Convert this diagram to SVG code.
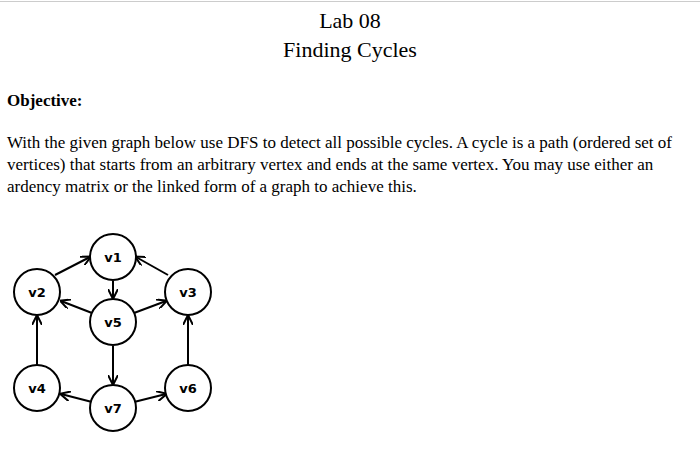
<svg xmlns="http://www.w3.org/2000/svg" width="700" height="453" viewBox="0 0 700 453">
<style>
.t{font-family:"Liberation Serif",serif;fill:#000}
.n circle{fill:#fff;stroke:#000;stroke-width:2}
.n text{font-family:"DejaVu Sans",sans-serif;font-weight:bold;font-size:13px;text-anchor:middle}
.e line{stroke:#000;stroke-width:2;marker-end:url(#a)}
</style>
<defs><marker id="a" viewBox="0 0 10 10" refX="9" refY="5" markerWidth="5" markerHeight="5" orient="auto"><path d="M0,0L10,5L0,10" fill="none" stroke="#000" stroke-width="2"/></marker></defs>
<rect width="700" height="453" fill="#fff"/>
<line x1="0" y1="1.5" x2="700" y2="1.5" stroke="#ccc"/>
<text class="t" x="350" y="28" font-size="22" text-anchor="middle">Lab 08</text>
<text class="t" x="350" y="57" font-size="22" text-anchor="middle">Finding Cycles</text>
<text class="t" x="7" y="106" font-size="17" font-weight="bold">Objective:</text>
<text class="t" x="7" y="148" font-size="17">With the given graph below use DFS to detect all possible cycles.  A cycle is a path (ordered set of</text>
<text class="t" x="7" y="170" font-size="17">vertices) that starts from an arbitrary vertex and ends at the same vertex.  You may use either an</text>
<text class="t" x="7" y="192" font-size="17">ardency matrix or the linked form of a graph to achieve this.</text>
<g class="e">
<line x1="55" y1="275" x2="90" y2="257"/>
<line x1="168" y1="275" x2="136" y2="257"/>
<line x1="113" y1="281" x2="113" y2="298"/>
<line x1="92" y1="313" x2="61" y2="301"/>
<line x1="134" y1="313" x2="166" y2="301"/>
<line x1="37" y1="366" x2="37" y2="316"/>
<line x1="188" y1="366" x2="188" y2="316"/>
<line x1="113" y1="346" x2="113" y2="384"/>
<line x1="92" y1="402" x2="61" y2="394"/>
<line x1="134" y1="402" x2="166" y2="394"/>
</g>
<g id="v1" class="n"><circle cx="113" cy="257" r="23"/><text x="113" y="262">v1</text></g>
<g id="v2" class="n"><circle cx="37" cy="292" r="23"/><text x="37" y="297">v2</text></g>
<g id="v3" class="n"><circle cx="188" cy="292" r="23"/><text x="188" y="297">v3</text></g>
<g id="v5" class="n"><circle cx="113" cy="322" r="23"/><text x="113" y="327">v5</text></g>
<g id="v4" class="n"><circle cx="37" cy="388" r="23"/><text x="37" y="393">v4</text></g>
<g id="v7" class="n"><circle cx="113" cy="408" r="23"/><text x="113" y="413">v7</text></g>
<g id="v6" class="n"><circle cx="188" cy="388" r="23"/><text x="188" y="393">v6</text></g>
</svg>
